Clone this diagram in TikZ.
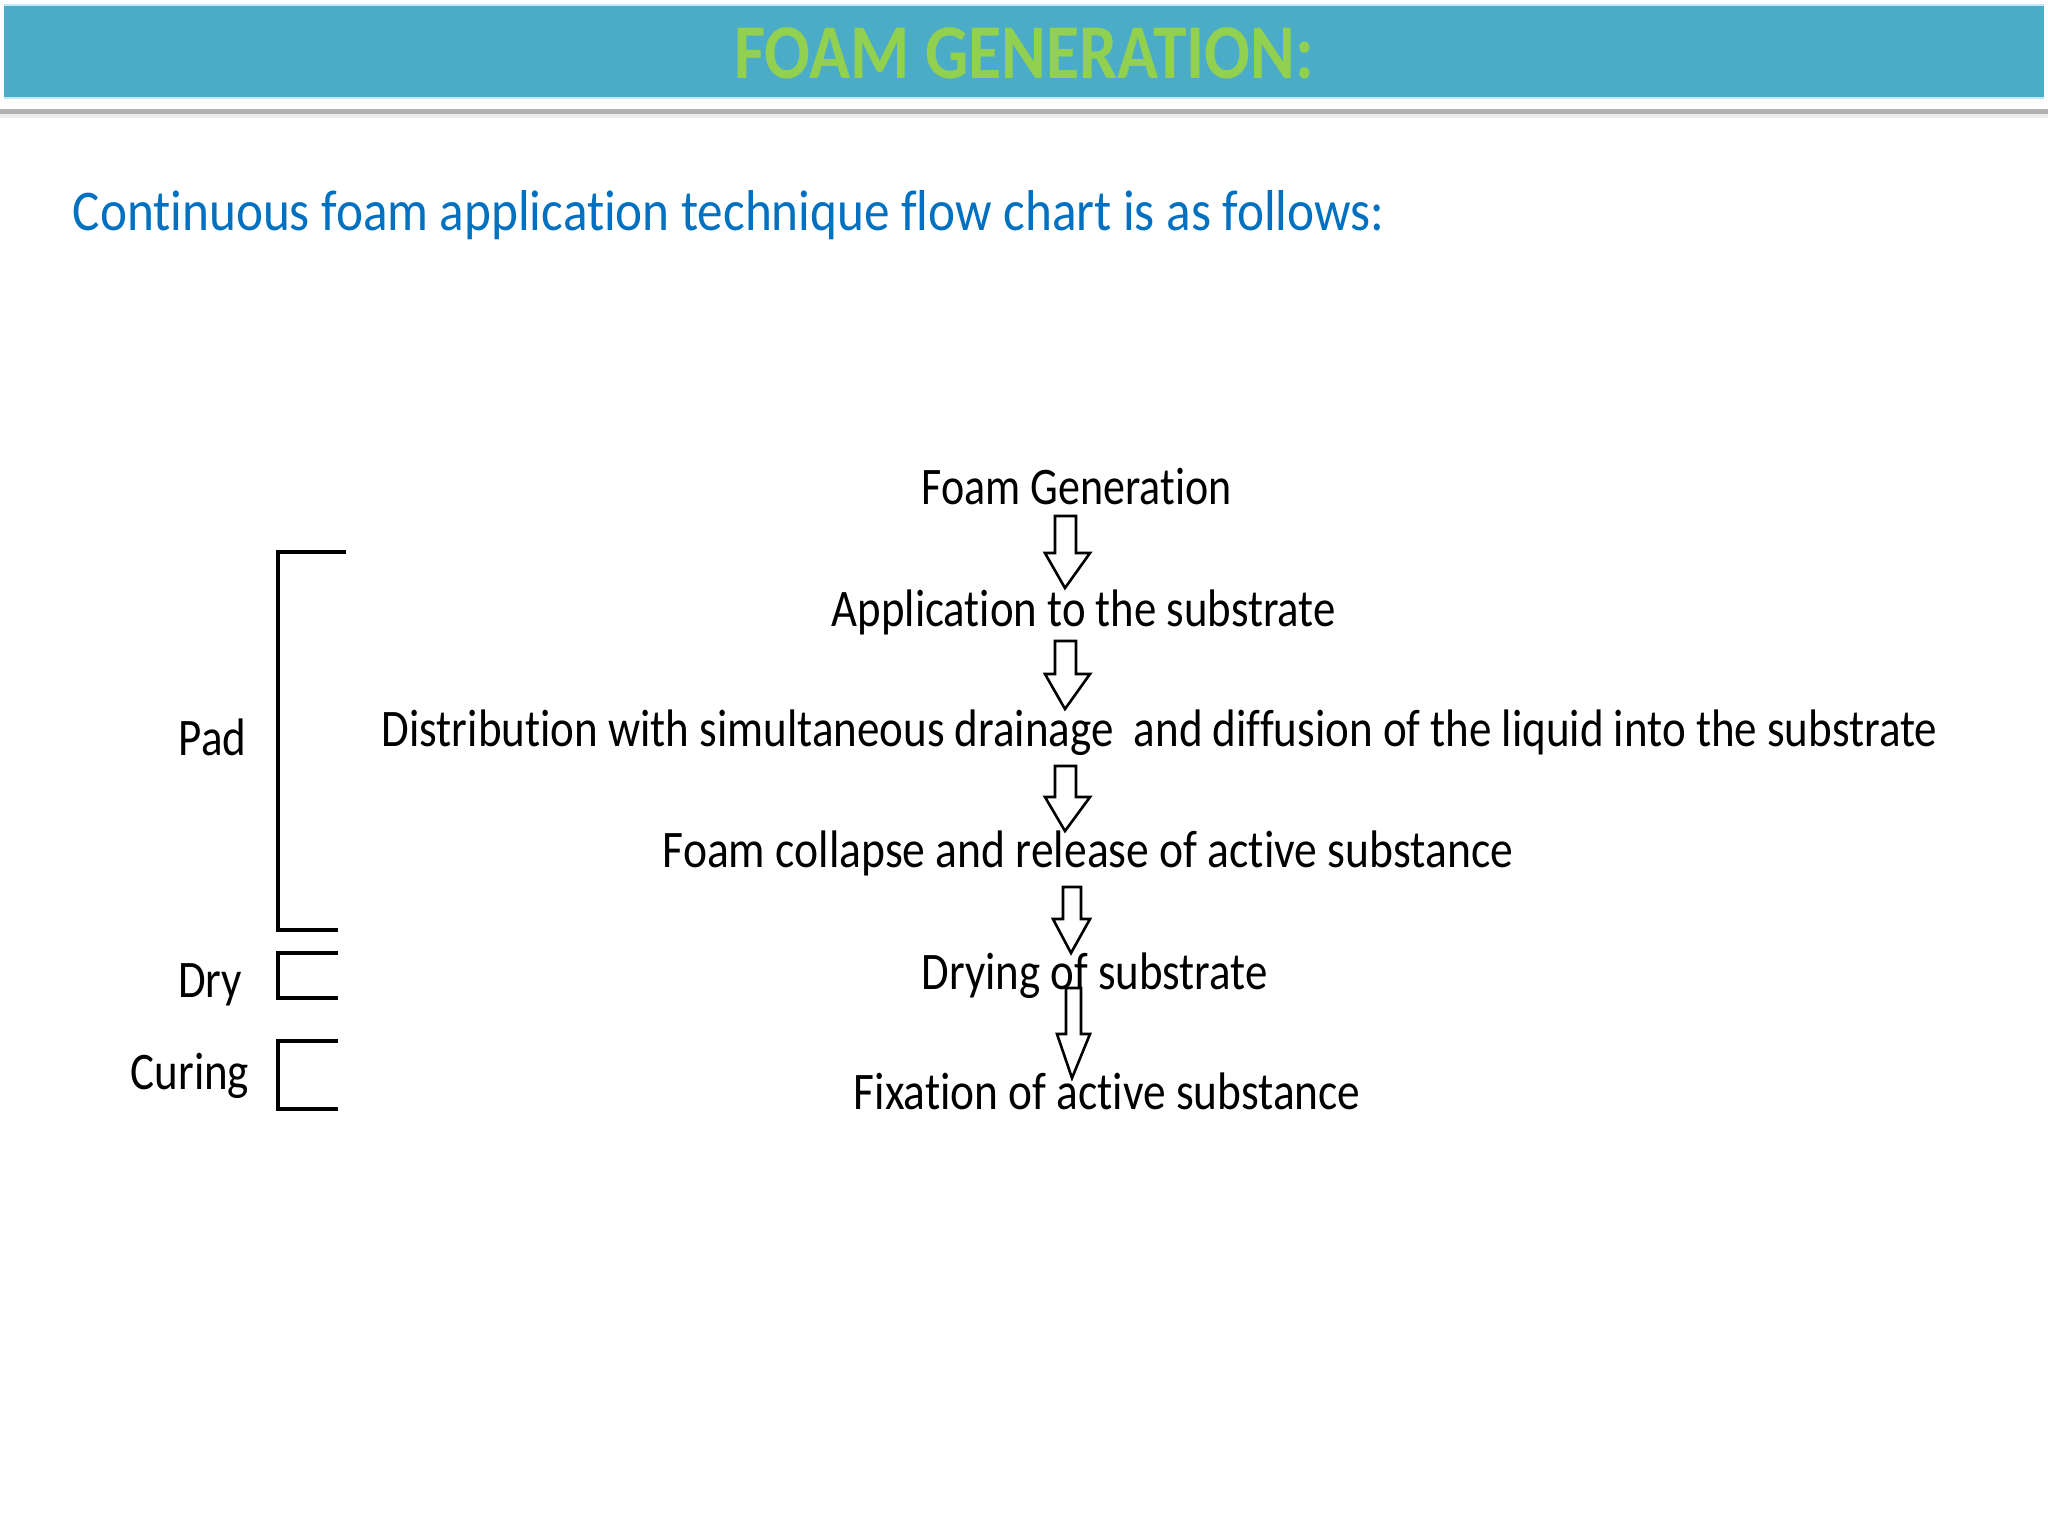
\documentclass[tikz,border=0pt]{standalone}
\usepackage{fontspec}
\setmainfont[Ligatures={NoCommon,NoContextual}]{Carlito}
\usepackage{graphicx}
\definecolor{bandblue}{HTML}{4BACC8}
\definecolor{titlegreen}{HTML}{92D050}
\definecolor{subblue}{HTML}{0070C0}
\newcommand{\flowf}{\fontsize{13.2}{15}\selectfont}
\newcommand{\titlef}{\fontsize{19.4}{22}\selectfont\bfseries}
\newcommand{\subf}{\fontsize{14.4}{17}\selectfont}
\newcommand{\fitw}[2]{\resizebox{#1pt}{\height}{#2}}
\newlength{\mylenA}
\begin{document}
\settowidth{\mylenA}{\flowf Distribution with simultaneous drainage\ \ and diffusion of the liquid into the substrate}%
\pgfmathsetmacro{\fxs}{389/\mylenA}%
\begin{tikzpicture}[x=0.25pt,y=-0.25pt,
  flow/.style={inner sep=0pt,text=black,font=\flowf},
  side/.style={inner sep=0pt,text=black,font=\flowf},
  blockarrow/.style={draw=black,line width=0.65pt,line join=miter},
  bracket/.style={draw=black,line width=0.8pt}]
\useasboundingbox (0,0) rectangle (2048,1536);
\fill[white] (0,0) rectangle (2048,1536);
% header
\fill[bandblue] (4,4) rectangle (2044,99);
\draw[cyan!25,line width=0.4pt] (4,5) -- (2044,5) (4,98) -- (2044,98);
\fill[gray!60] (0,109) rectangle (2048,114);
\fill[gray!15] (0,114) rectangle (2048,118);
\node[inner sep=0pt,text=titlegreen,font=\titlef,anchor=base] (title) at (1024,78) {\fitw{145}{FOAM GENERATION:}};
\node[inner sep=0pt,text=subblue,font=\subf,anchor=base west] (sub) at (72,230) {\fitw{328}{Continuous foam application technique flow chart is as follows:}};
% flow texts
\node[flow,anchor=base west] (fg) at (921,504) {\fitw{77.4}{Foam Generation}};
\node[flow,anchor=base west] (app) at (831,626) {\fitw{126}{Application to the substrate}};
\node[flow,anchor=base west] (dist) at (381,746) {\fitw{389}{Distribution with simultaneous drainage\ \ and diffusion of the liquid into the substrate}};
\node[flow,anchor=base west] (coll) at (662,867) {\fitw{212.6}{Foam collapse and release of active substance}};
\node[flow,anchor=base west] (dryt) at (921,989) {\fitw{86.5}{Drying of substrate}};
\node[flow,anchor=base west] (fix) at (853,1109) {\fitw{126.7}{Fixation of active substance}};
% side labels
\node[side,anchor=base east] (pad) at (247,755) {\scalebox{\fxs}[1]{Pad}};
\node[side,anchor=base east] (dry) at (243,997) {\scalebox{\fxs}[1]{Dry}};
\node[side,anchor=base east] (cur) at (250,1089) {\scalebox{\fxs}[1]{Curing}};
% brackets
\draw[bracket] (346,552) -- (278,552) -- (278,930) -- (338,930);
\draw[bracket] (338,953) -- (278,953) -- (278,998) -- (338,998);
\draw[bracket] (338,1041) -- (278,1041) -- (278,1109) -- (338,1109);
% block arrows
\draw[blockarrow] (1055,516) -- (1076,516) -- (1076,553) -- (1090,553) -- (1065,588) -- (1045,553) -- (1055,553) -- cycle;
\draw[blockarrow] (1055,641) -- (1076,641) -- (1076,674) -- (1090,674) -- (1065,709) -- (1045,674) -- (1055,674) -- cycle;
\draw[blockarrow] (1055,766) -- (1076,766) -- (1076,797) -- (1090,797) -- (1065,831) -- (1045,797) -- (1055,797) -- cycle;
\draw[blockarrow] (1063,887) -- (1081,887) -- (1081,919) -- (1090,919) -- (1071,953) -- (1053,919) -- (1063,919) -- cycle;
\draw[blockarrow] (1066,988) -- (1081,988) -- (1081,1034) -- (1090,1034) -- (1072,1078) -- (1057,1034) -- (1066,1034) -- cycle;
\end{tikzpicture}
\end{document}
